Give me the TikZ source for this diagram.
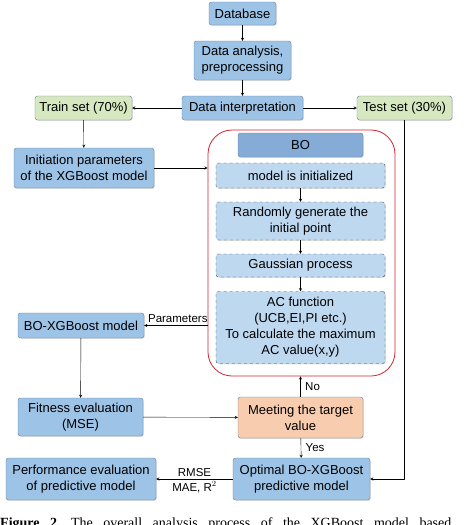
\documentclass[tikz,border=0pt]{standalone}
\usepackage{fontspec}
\setmainfont{Liberation Sans}
\newfontfamily\capfont{Liberation Serif}
\usetikzlibrary{shadows}
\definecolor{boxblue}{RGB}{157,195,230}
\definecolor{boblue}{RGB}{133,172,215}
\definecolor{stepblue}{RGB}{190,216,240}
\definecolor{setgreen}{RGB}{214,232,192}
\definecolor{goalorange}{RGB}{248,204,174}
\definecolor{edgegray}{RGB}{105,125,150}
\definecolor{boRed}{RGB}{210,35,45}
\tikzset{
	box/.style={draw=edgegray, fill=boxblue, rounded corners=2.5pt, align=center, inner sep=1pt,
		drop shadow={opacity=0.25, shadow xshift=0.8pt, shadow yshift=-0.8pt}},
	stepbox/.style={box, fill=stepblue, dashed, draw=black!75, drop shadow={opacity=0}},
	lbl/.style={font=\fontsize{11.5}{13}\selectfont, inner sep=1.5pt}
}
\begin{document}
\begin{tikzpicture}[x=1pt, y=-1pt, font=\fontsize{13}{16}\selectfont, line join=round, >=stealth]
	\useasboundingbox (0,0) rectangle (474,525);
	% top of the chart
	\node[box, minimum width=67pt, minimum height=23pt] (db) at (242.5,13.5) {Database};
	\node[box, minimum width=97pt, minimum height=39pt] (prep) at (242.5,60.5) {Data analysis,\\preprocessing};
	\node[box, minimum width=121pt, minimum height=24pt] (interp) at (242.5,108) {Data interpretation};
	\node[box, fill=setgreen, minimum width=97pt, minimum height=24pt] (train) at (83.5,108) {Train set (70\%)};
	\node[box, fill=setgreen, minimum width=95pt, minimum height=24pt] (test) at (404.5,108) {Test set (30\%)};
	\node[box, minimum width=140pt, minimum height=40pt] (init) at (84,168) {Initiation parameters\\of the XGBoost model};
	% BO block
	\node[draw=boRed, thick, rounded corners=24pt, minimum width=187pt, minimum height=246pt] (bo) at (301.5,253) {};
	\node[box, fill=boblue, minimum width=125pt, minimum height=24pt, drop shadow={opacity=0}] (botitle) at (300.5,145) {BO};
	\node[stepbox, minimum width=169pt, minimum height=25pt] (s1) at (300.5,175.5) {model is initialized};
	\node[stepbox, minimum width=169pt, minimum height=38pt] (s2) at (300.5,221) {Randomly generate the\\initial point};
	\node[stepbox, minimum width=169pt, minimum height=23pt] (s3) at (300.5,265.5) {Gaussian process};
	\node[stepbox, minimum width=169pt, minimum height=72pt] (s4) at (300.5,327.5) {AC function\\(UCB,EI,PI etc.)\\To calculate the maximum\\AC value(x,y)};
	% lower part
	\node[box, minimum width=126pt, minimum height=25pt] (boxgb) at (81,325.5) {BO-XGBoost model};
	\node[box, minimum width=125pt, minimum height=38pt] (fit) at (80.5,417) {Fitness evaluation\\(MSE)};
	\node[box, fill=goalorange, minimum width=125pt, minimum height=41pt] (goal) at (300.5,417.5) {Meeting the target\\value};
	\node[box, minimum width=137pt, minimum height=42pt] (opt) at (301.5,479) {Optimal BO-XGBoost\\predictive model};
	\node[box, minimum width=150pt, minimum height=42pt] (perf) at (81,479) {Performance evaluation\\of predictive model};
	% connectors
	\draw[->] (db) -- (prep);
	\draw[->] (prep) -- (interp);
	\draw[->] (interp) -- (train);
	\draw[->] (interp) -- (test);
	\draw[->] (train) -- (init);
	\draw[->] (init.east) -- (init.east -| bo.west);
	\draw[->] (s1) -- (s2);
	\draw[->] (s2) -- (s3);
	\draw[->] (s3) -- (s4);
	\draw[->] (bo.west |- boxgb.east) -- node[lbl, above=1pt, pos=0.47]{Parameters} (boxgb.east);
	\draw[->] (boxgb) -- (fit);
	\draw[->] (fit) -- (goal);
	\draw[->] (goal.north) -- node[lbl, right=3pt]{No} (goal.north |- bo.south);
	\draw[->] (goal) -- node[lbl, right=3pt]{Yes} (opt);
	\draw[->] (test) |- (opt);
	\draw[->] (opt) -- node[lbl, above=1pt]{RMSE} node[lbl, below=1pt]{MAE, R$^2$} (perf);
	% caption, cut at the bottom edge
	\node[anchor=base west, inner sep=0pt, font=\capfont\fontsize{14}{16}\selectfont] (cap) at (0,527)
		{\spaceskip=10.5pt\xspaceskip=10.5pt\textbf{Figure 2.} The overall analysis process of the XGBoost model based};
\end{tikzpicture}
\end{document}
